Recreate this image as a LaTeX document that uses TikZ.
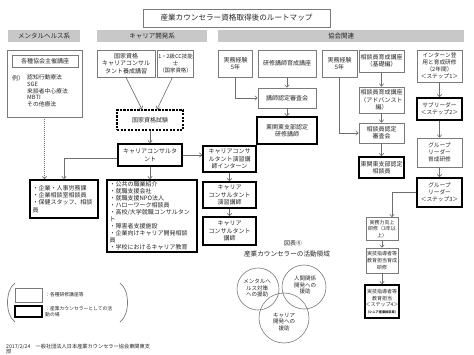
\documentclass[tikz,border=0pt]{standalone}
\usepackage{fontspec}
\setmainfont{Noto Sans CJK JP}
\usetikzlibrary{arrows.meta,calc}
\definecolor{lgray}{HTML}{C8C8C8}
\definecolor{bgray}{HTML}{7A7A7A}
\definecolor{agray}{HTML}{6E6E6E}
\definecolor{tx}{HTML}{262626}
\begin{document}
\begin{tikzpicture}[x=1pt,y=-1pt,
  base/.style={rectangle, align=center, text=tx, inner sep=0.5pt, fill=white, font=\fontsize{6}{7.4}\selectfont},
  thinbox/.style={base, draw=bgray, line width=0.7pt},
  thickbox/.style={base, draw=black, line width=1.5pt},
  dashbox/.style={base, draw=black, line width=1.2pt, dash pattern=on 2.2pt off 1.3pt},
  bar/.style={rectangle, fill=lgray, text=tx, inner sep=0pt, minimum height=12pt, font=\fontsize{6.5}{8}\selectfont},
  arr/.style={draw=agray, line width=0.6pt, -{Straight Barb[length=2.5pt,width=4.5pt]}},
  plain/.style={text=tx, inner sep=0pt},
]
\useasboundingbox[fill=white] (0,0) rectangle (474,355);

% title and bars
\node[thinbox, minimum width=187pt, minimum height=18pt, font=\fontsize{7.6}{9}\selectfont] (title) at (236.5,18) {産業カウンセラー資格取得後のルートマップ};
\node[bar, minimum width=72pt] (bar1) at (44,36) {メンタルヘルス系};
\node[bar, minimum width=110pt] (bar2) at (152,36) {キャリア開発系};
\node[bar, minimum width=246pt] (bar3) at (341,36) {協会関連};

% mental health column
\node[thinbox, minimum width=75pt, minimum height=67pt] (mh) at (44.5,83.5) {};
\node[thinbox, minimum width=66pt, minimum height=12pt] (mhc) at (45,61) {各種協会主催講座};
\node[plain, anchor=west, font=\fontsize{5.8}{6.8}\selectfont] (rei) at (12,78) {例）};
\node[plain, anchor=north west, align=left, font=\fontsize{5.8}{6.8}\selectfont] (mhlist) at (27,74.5) {認知行動療法\\SGE\\来談者中心療法\\MBTI\\その他療法};

\node[thickbox, minimum width=68pt, minimum height=38pt, text width=63pt, align=left] (kigyo) at (64,199) {・企業・人事労務課\\・企業相談室相談員\\・保健スタッフ、相談\\員};

% career column
\node[thinbox, minimum width=58pt, minimum height=27pt] (kk) at (126,63.5) {国家資格\\キャリアコンサル\\タント養成講習};
\node[thinbox, minimum width=35pt, minimum height=27pt, font=\fontsize{5.4}{7.4}\selectfont] (cc12) at (175.5,63.5) {1・2級CC技能\\士\\（国家資格）};
\node[dashbox, minimum width=66pt, minimum height=20pt] (exam) at (150,120) {国家資格試験};
\node[thickbox, minimum width=64pt, minimum height=22pt] (cc) at (150,155) {キャリアコンサルタ\\ント};
\node[thickbox, minimum width=90pt, minimum height=72pt, text width=85pt, align=left, font=\fontsize{6}{7.05}\selectfont] (list) at (152,216) {・公共の職業紹介\\・就職支援会社\\・就職支援NPO法人\\・ハローワーク相談員\\・高校/大学就職コンサルタン\\ト\\・障害者支援施設\\・企業向けキャリア開発相談\\員\\・学校におけるキャリア教育};
\node[thickbox, minimum width=53pt, minimum height=26pt] (intern) at (229.5,159) {キャリアコンサ\\ルタント演習講\\師インターン};
\node[thickbox, minimum width=53pt, minimum height=26pt] (ensyu) at (229.5,195) {キャリア\\コンサルタント\\演習講師};
\node[thickbox, minimum width=53pt, minimum height=28pt] (koshi) at (229.5,231) {キャリア\\コンサルタント\\講師};

% association column
\node[thinbox, minimum width=34pt, minimum height=27pt] (exp1) at (235.5,63.5) {実務経験\\5年};
\node[thinbox, minimum width=58pt, minimum height=27pt] (kenshu) at (287,63.5) {研修講師育成講座};
\node[thinbox, minimum width=58pt, minimum height=20pt] (shinsa) at (287,98) {講師認定審査会};
\node[thickbox, minimum width=60pt, minimum height=27pt] (kkoshi) at (287,130.5) {東関東支部認定\\研修講師};

\node[thinbox, minimum width=35pt, minimum height=27pt] (exp2) at (339.5,63.5) {実務経験\\5年};
\node[thinbox, minimum width=45pt, minimum height=22pt] (sodan1) at (381.5,61) {相談員育成講座\\（基礎編）};
\node[thinbox, minimum width=45pt, minimum height=26pt] (sodan2) at (381.5,100) {相談員育成講座\\（アドバンスト\\編）};
\node[thinbox, minimum width=45pt, minimum height=20pt] (sshinsa) at (381.5,133) {相談員認定\\審査会};
\node[thickbox, minimum width=45pt, minimum height=21pt] (ksodan) at (381.5,167.5) {東関東支部認定\\相談員};

\node[thinbox, minimum width=45pt, minimum height=32pt, font=\fontsize{5.7}{7.2}\selectfont] (intern2) at (439.5,66) {インターン登\\用と育成研修\\（2年間）\\＜ステップ1＞};
\node[thickbox, minimum width=45pt, minimum height=22pt, font=\fontsize{5.7}{7.2}\selectfont] (sub) at (439.5,109) {サブリーダー\\＜ステップ2＞};
\node[thinbox, minimum width=45pt, minimum height=29pt, font=\fontsize{5.7}{7.2}\selectfont] (glt) at (439.5,152.5) {グループ\\リーダー\\育成研修};
\node[thickbox, minimum width=45pt, minimum height=29pt, font=\fontsize{5.7}{7.2}\selectfont] (gl) at (439.5,192.5) {グループ\\リーダー\\＜ステップ3＞};
\node[thinbox, minimum width=32pt, minimum height=23pt, font=\fontsize{5}{6.6}\selectfont] (jitsumu) at (382,229) {実務力向上\\研修（3年以\\上）};
\node[thinbox, minimum width=32pt, minimum height=25pt, font=\fontsize{5}{6.6}\selectfont] (shido1) at (382,260.5) {実技指導者等\\教育担当育成\\研修};
\node[thickbox, minimum width=32pt, minimum height=33pt, font=\fontsize{5}{6.6}\selectfont] (shido2) at (382,301.5) {実技指導者等\\教育担当\\＜ステップ4＞\\{\fontsize{3.2}{4.5}\selectfont\bfseries （シニア産業相談員）}};

% connectors
\draw[arr] (kk.south) -- ([xshift=-8pt]exam.north);
\draw[arr] ([xshift=-3pt]cc12.south) -- ([xshift=7pt]exam.north);
\draw[arr] (exam.south) -- (cc.north);
\draw[arr] (cc.south) -- (cc.south |- list.north);
\draw[arr] ([yshift=-3pt]cc.west) -| (kigyo.north);
\draw[arr, dash pattern=on 1pt off 1pt] (mh.south) -- (mh.south |- kigyo.north);
\draw[arr] (cc.east) -- (cc.east -| intern.west);
\draw[arr] (intern.south) -- (ensyu.north);
\draw[arr] (ensyu.south) -- (koshi.north);

\draw[arr] (exp1.south) |- (shinsa.west);
\draw[arr] (kenshu.south) -- (shinsa.north);
\draw[arr] (shinsa.south) -- (kkoshi.north);
\draw[arr] (exp2.south) |- (sshinsa.west);
\draw[arr] (sodan1.south) -- (sodan2.north);
\draw[arr] (sodan2.south) -- (sshinsa.north);
\draw[arr] (sshinsa.south) -- (ksodan.north);
\draw[arr] (intern2.south) -- (sub.north);
\draw[arr] (sub.south) -- (glt.north);
\draw[arr] (glt.south) -- (gl.north);
\draw[arr] (gl.west) -| ([xshift=10pt]jitsumu.north);
\draw[arr] (jitsumu.south) -- (shido1.north);
\draw[arr] (shido1.south) -- (shido2.north);

% Venn diagram
\node[plain, font=\fontsize{6}{7}\selectfont] (zuhyo) at (293,243) {図表⑥};
\node[plain, font=\fontsize{6.6}{8}\selectfont] (ryoiki) at (287,254) {産業カウンセラーの活動領域};
\draw[bgray, line width=0.6pt] (258,289) circle[radius=21pt];
\draw[bgray, line width=0.6pt] (304,287) circle[radius=22pt];
\draw[bgray, line width=0.6pt] (284,318) circle[radius=25pt];
\node[plain, align=center, font=\fontsize{5.5}{6.8}\selectfont] (v1) at (257,288) {メンタルへ\\ルス対策\\への援助};
\node[plain, align=center, font=\fontsize{5.5}{6.8}\selectfont] (v2) at (305,285) {人間関係\\開発への\\援助};
\node[plain, align=center, font=\fontsize{5.5}{6.8}\selectfont] (v3) at (284,322) {キャリア\\開発への\\援助};

% legend
\draw[bgray, line width=0.7pt] (15,283) .. controls (5,290) and (5,315) .. (15,322);
\draw[bgray, line width=0.7pt] (120,283) .. controls (130,290) and (130,315) .. (120,322);
\node[thinbox, minimum width=27pt, minimum height=14pt] (lg1) at (28.5,295) {};
\node[thickbox, minimum width=27pt, minimum height=11pt] (lg2) at (28.5,311.5) {};
\node[plain, anchor=west, font=\fontsize{4.8}{6}\selectfont] (lt1) at (45,295) {：各種研修講座等};
\node[plain, anchor=north west, align=left, font=\fontsize{4.8}{5.6}\selectfont] (lt2) at (45,306.5) {：産業カウンセラーとしての活\\動の場};

% footer
\node[plain, anchor=north west, align=left, text width=160pt, font=\fontsize{5.2}{5.6}\selectfont] (foot) at (6,343.5) {2017/2/24　一般社団法人日本産業カウンセラー協会東関東支\\部};
\end{tikzpicture}
\end{document}
